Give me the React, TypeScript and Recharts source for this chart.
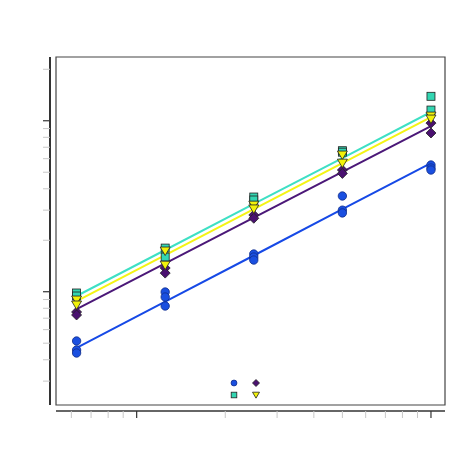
import { ComposedChart, Scatter, Line, XAxis, YAxis, ReferenceArea, Legend } from 'recharts';

// doses (x) and responses (y)
const doses = [0.625, 1.25, 2.5, 5, 10];

const blueObs = [[0.515, 0.456, 0.438], [0.996, 0.931, 0.825], [1.662, 1.595, 1.532], [3.63, 3.0, 2.89], [5.51, 5.29, 5.15]];
const tealObs = [[0.983, 0.944], [1.8, 1.595], [3.58, 3.44], [6.68, 6.55], [13.9, 11.55]];
const yellowObs = [[0.894, 0.836], [1.73, 1.43], [3.21, 3.05], [6.3, 5.65], [10.65, 10.23]];
const purpleObs = [[0.761, 0.731], [1.376, 1.285], [2.81, 2.69], [5.15, 4.92], [9.69, 8.48]];

// fitted lines
const blueFit = [0.469, 0.874, 1.629, 3.038, 5.66];
const tealFit = [0.944, 1.754, 3.26, 6.05, 11.25];
const yellowFit = [0.882, 1.639, 3.045, 5.656, 10.51];
const purpleFit = [0.792, 1.467, 2.716, 5.03, 9.31];

const xTicks = [0.6, 0.7, 0.8, 0.9, 1, 2, 3, 4, 5, 6, 7, 8, 9, 10];
const yTicks = [0.3, 0.4, 0.5, 0.6, 0.7, 0.8, 0.9, 1, 2, 3, 4, 5, 6, 7, 8, 9, 10, 20];
const majorTicks = [1, 10];

const X_DOMAIN = [0.532, 11.16];
const Y_DOMAIN = [0.2175, 23.6];

const W = 474;
const H = 474;
const MARGIN = { top: 57, right: 29, bottom: 29, left: 16 };
const Y_AXIS_W = 40;
const X_AXIS_H = 40;
const PLOT_LEFT = MARGIN.left + Y_AXIS_W;
const PLOT_RIGHT = W - MARGIN.right;
const PLOT_TOP = MARGIN.top;
const PLOT_BOTTOM = H - MARGIN.bottom - X_AXIS_H;

const COLORS = {
  blue: '#1a4fe0',
  teal: '#33d6b2',
  yellow: '#f2f20a',
  purple: '#4a1170',
};
const LINE_COLORS = {
  blue: '#1649e6',
  teal: '#3ee0c4',
  yellow: '#f4f414',
  purple: '#4b1878',
};

const toPoints = (obs: number[][]) =>
  obs.flatMap((reps, i) => reps.map((y) => ({ x: doses[i], y })));
const toFit = (fit: number[]) => fit.map((y, i) => ({ x: doses[i], y }));

type Kind = 'circle' | 'square' | 'diamond' | 'down';

const Marker = ({ cx, cy, kind, fill, s = 1 }: { cx: number; cy: number; kind: Kind; fill: string; s?: number }) => {
  if (cx == null || cy == null) return null;
  const stroke = kind === 'circle' ? '#0f2c8a' : '#222';
  if (kind === 'circle') return <circle cx={cx} cy={cy} r={4.2 * s} fill={fill} stroke={stroke} strokeWidth={0.8} />;
  if (kind === 'square') {
    const h = 4 * s;
    return <rect x={cx - h} y={cy - h} width={2 * h} height={2 * h} fill={fill} stroke={stroke} strokeWidth={0.8} />;
  }
  if (kind === 'diamond') {
    const h = 5 * s;
    return <polygon points={`${cx},${cy - h} ${cx + h},${cy} ${cx},${cy + h} ${cx - h},${cy}`} fill={fill} stroke={stroke} strokeWidth={0.8} />;
  }
  const h = 5 * s;
  return <polygon points={`${cx - h},${cy - h * 0.8} ${cx + h},${cy - h * 0.8} ${cx},${cy + h * 0.9}`} fill={fill} stroke={stroke} strokeWidth={0.8} />;
};

const XTick = (props: any) => {
  const { x, payload, index } = props;
  const major = majorTicks.includes(payload.value);
  const y0 = PLOT_BOTTOM + 6;
  return (
    <g>
      {index === 0 && <line x1={PLOT_LEFT} x2={PLOT_RIGHT} y1={y0} y2={y0} stroke="#333" strokeWidth={1.6} />}
      <line x1={x} x2={x} y1={y0} y2={y0 + 7} stroke={major ? '#333' : '#c8c8c8'} strokeWidth={major ? 1.2 : 1} />
    </g>
  );
};

const YTick = (props: any) => {
  const { y, payload, index } = props;
  const major = majorTicks.includes(payload.value);
  const x0 = PLOT_LEFT - 6;
  return (
    <g>
      {index === 0 && <line x1={x0} x2={x0} y1={PLOT_TOP} y2={PLOT_BOTTOM} stroke="#333" strokeWidth={2} />}
      <line x1={x0} x2={x0 - 7} y1={y} y2={y} stroke={major ? '#333' : '#c8c8c8'} strokeWidth={major ? 1.2 : 1} />
    </g>
  );
};

const legendItems: { name: string; kind: Kind; color: string }[] = [
  { name: 'A', kind: 'circle', color: COLORS.blue },
  { name: 'B', kind: 'diamond', color: COLORS.purple },
  { name: 'C', kind: 'square', color: COLORS.teal },
  { name: 'D', kind: 'down', color: COLORS.yellow },
];

const LegendBox = () => (
  <svg width={40} height={26}>
    {legendItems.map((it, i) => (
      <Marker key={it.name} cx={8 + (i % 2) * 22} cy={6 + Math.floor(i / 2) * 12} kind={it.kind} fill={it.color} s={0.7} />
    ))}
  </svg>
);

export default function App() {
  return (
    <div style={{ position: 'absolute', left: 0, top: 0, width: W, height: H, background: '#fff' }}>
      <ComposedChart width={W} height={H} margin={MARGIN}>
        <XAxis
          type="number"
          dataKey="x"
          scale="log"
          domain={X_DOMAIN}
          allowDataOverflow
          ticks={xTicks}
          interval={0}
          height={X_AXIS_H}
          axisLine={false}
          tickLine={false}
          tickSize={0}
          tickMargin={0}
          tick={<XTick />}
        />
        <YAxis
          type="number"
          dataKey="y"
          scale="log"
          domain={Y_DOMAIN}
          allowDataOverflow
          ticks={yTicks}
          interval={0}
          width={Y_AXIS_W}
          axisLine={false}
          tickLine={false}
          tickSize={0}
          tickMargin={0}
          tick={<YTick />}
        />
        <ReferenceArea
          x1={X_DOMAIN[0]}
          x2={X_DOMAIN[1]}
          y1={Y_DOMAIN[0]}
          y2={Y_DOMAIN[1]}
          fill="none"
          stroke="#444"
          strokeWidth={1.2}
          ifOverflow="visible"
        />
        <Line data={toFit(tealFit)} dataKey="y" stroke={LINE_COLORS.teal} strokeWidth={2} dot={false} isAnimationActive={false} />
        <Line data={toFit(yellowFit)} dataKey="y" stroke={LINE_COLORS.yellow} strokeWidth={2} dot={false} isAnimationActive={false} />
        <Line data={toFit(purpleFit)} dataKey="y" stroke={LINE_COLORS.purple} strokeWidth={2} dot={false} isAnimationActive={false} />
        <Line data={toFit(blueFit)} dataKey="y" stroke={LINE_COLORS.blue} strokeWidth={2} dot={false} isAnimationActive={false} />
        <Scatter data={toPoints(blueObs)} isAnimationActive={false} shape={(p: any) => <Marker cx={p.cx} cy={p.cy} kind="circle" fill={COLORS.blue} />} />
        <Scatter data={toPoints(purpleObs)} isAnimationActive={false} shape={(p: any) => <Marker cx={p.cx} cy={p.cy} kind="diamond" fill={COLORS.purple} />} />
        <Scatter data={toPoints(tealObs)} isAnimationActive={false} shape={(p: any) => <Marker cx={p.cx} cy={p.cy} kind="square" fill={COLORS.teal} />} />
        <Scatter data={toPoints(yellowObs)} isAnimationActive={false} shape={(p: any) => <Marker cx={p.cx} cy={p.cy} kind="down" fill={COLORS.yellow} />} />
        <Legend
          layout="horizontal"
          verticalAlign="middle"
          align="center"
          content={<LegendBox />}
          wrapperStyle={{ left: 226, top: 377, width: 40, height: 26 }}
        />
      </ComposedChart>
    </div>
  );
}
